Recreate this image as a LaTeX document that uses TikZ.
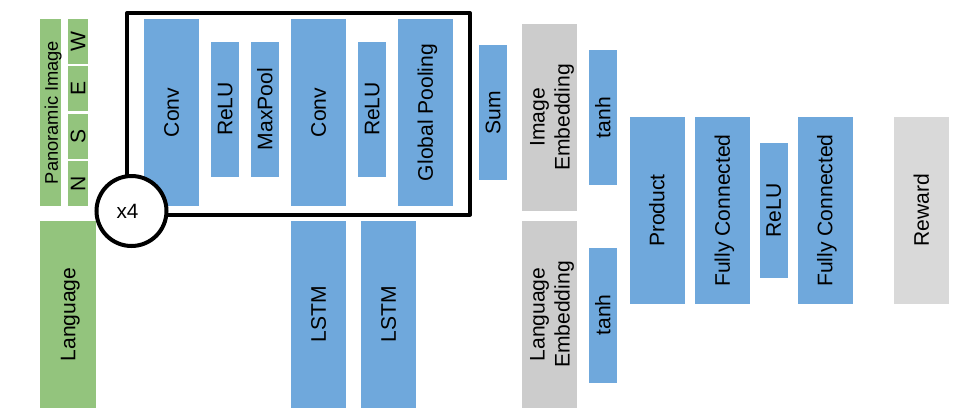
\documentclass[tikz,border=0pt]{standalone}
\usepackage{fontspec}
\setmainfont{Liberation Sans}
\tikzset{
    layer/.style={rotate=90, inner sep=0, outer sep=0, align=center, text height=8.4pt, text depth=0pt, font=\fontsize{12}{14.2}\selectfont},
    tall/.style={layer, minimum width=3.74cm, minimum height=1.1cm},
    short/.style={layer, minimum width=2.7cm, minimum height=0.56cm},
    twolines/.style={text height=, text depth=},
    blue/.style={fill=netblue},
    green/.style={fill=netgreen},
    grey/.style={fill=netgrey}
}
\definecolor{netblue}{HTML}{6FA8DC}
\definecolor{netgreen}{HTML}{93C47D}
\definecolor{netgrey}{HTML}{CCCCCC}
\definecolor{netlight}{HTML}{D9D9D9}
\begin{document}
\begin{tikzpicture}
    \useasboundingbox (0,0) rectangle (19.34,8.3);

    \node[layer, green, minimum width=3.74cm, minimum height=0.42cm, font=\fontsize{10.4}{12}\selectfont] (panorama) at (1.01,6.05) {Panoramic Image};
    \node[layer, green, minimum width=0.9cm, minimum height=0.4cm] (west) at (1.56,7.47) {W};
    \node[layer, green, minimum width=0.9cm, minimum height=0.4cm] (east) at (1.56,6.53) {E};
    \node[layer, green, minimum width=0.9cm, minimum height=0.4cm] (south) at (1.56,5.57) {S};
    \node[layer, green, minimum width=0.9cm, minimum height=0.4cm] (north) at (1.56,4.63) {N};
    \node[tall, green, minimum height=1.12cm] (language) at (1.36,2.01) {Language};

    \draw[line width=0.08cm, line join=round] (2.54,4.01) rectangle (9.4,8.04);

    \node[tall, blue] (conva) at (3.43,6.05) {Conv};
    \node[short, blue] (relua) at (4.5,6.12) {ReLU};
    \node[short, blue] (maxpool) at (5.3,6.12) {MaxPool};
    \node[tall, blue] (convb) at (6.37,6.05) {Conv};
    \node[short, blue] (relub) at (7.44,6.12) {ReLU};
    \node[tall, blue] (pooling) at (8.51,6.05) {Global Pooling};

    \node[circle, draw, line width=0.08cm, fill=white, minimum size=1.4cm, inner sep=0, font=\fontsize{11.8}{13}\selectfont] (repeat) at (2.63,4.08) {x4\kern0.16cm};

    \node[tall, blue] (lstma) at (6.37,2.01) {LSTM};
    \node[tall, blue] (lstmb) at (7.77,2.01) {LSTM};

    \node[short, blue] (sum) at (9.86,6.05) {Sum};
    \node[tall, grey, twolines] (imgembed) at (10.99,5.95) {\rule{0pt}{0.93em}Image\\Embedding};
    \node[tall, grey, twolines] (langembed) at (10.99,2.01) {\rule{0pt}{0.93em}Language\\Embedding};
    \node[short, blue] (tanha) at (12.06,5.95) {tanh};
    \node[short, blue] (tanhb) at (12.06,2.0) {tanh};

    \node[tall, blue] (product) at (13.14,4.09) {Product};
    \node[tall, blue] (fca) at (14.45,4.09) {Fully Connected};
    \node[short, blue] (reluc) at (15.47,4.09) {ReLU};
    \node[tall, blue] (fcb) at (16.5,4.09) {Fully Connected};
    \node[tall, fill=netlight] (reward) at (18.43,4.09) {Reward};
\end{tikzpicture}
\end{document}
